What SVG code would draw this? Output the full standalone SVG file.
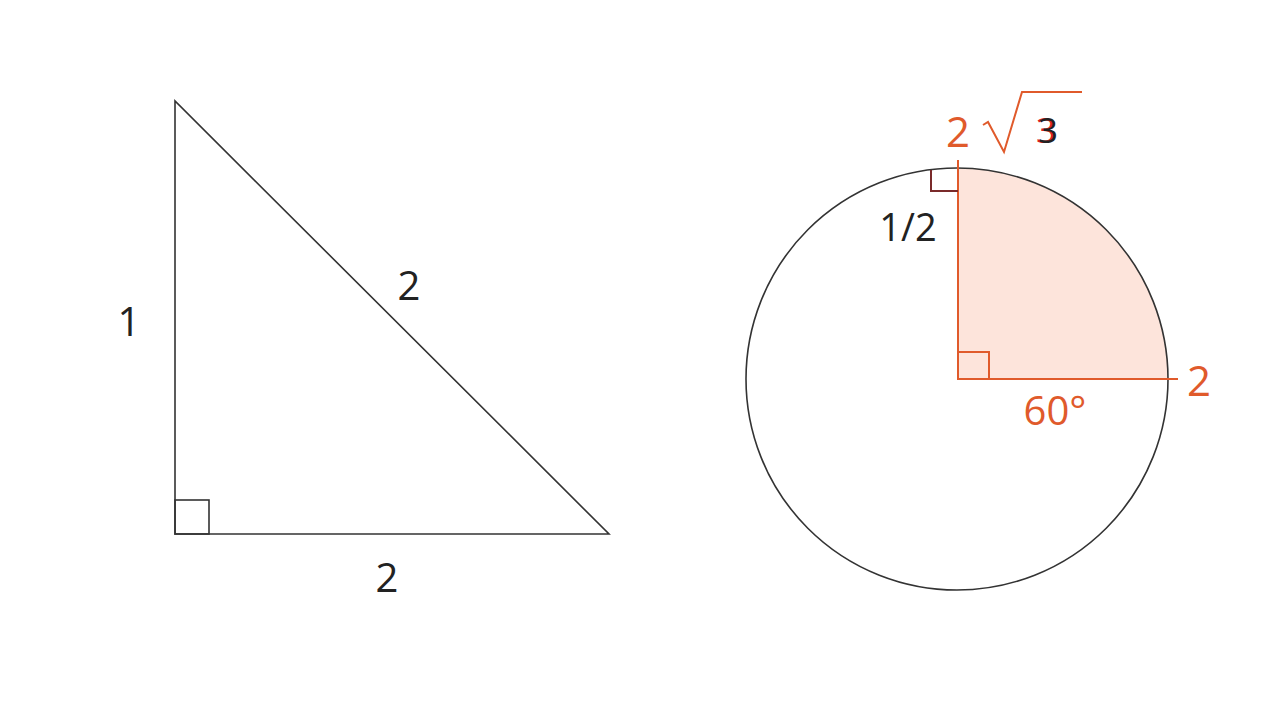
<svg xmlns="http://www.w3.org/2000/svg" width="1280" height="720" viewBox="0 0 1280 720">
<style>
.ln{fill:none;stroke:#333;stroke-width:1.6}
.or{fill:none;stroke:#e05a2b;stroke-width:2}
.t{font-family:"Open Sans","Noto Sans",sans-serif;text-anchor:middle}
.dk{fill:#222}
.ot{fill:#e05a2b}
</style>
<rect width="1280" height="720" fill="#fff"/>
<g id="triangle">
<polygon class="ln" points="175,101 175,534 609,534"/>
<rect class="ln" x="175" y="500" width="34" height="34"/>
<text class="t dk" x="129" y="336" font-size="40">1</text>
<text class="t dk" x="409" y="300" font-size="40">2</text>
<text class="t dk" x="387" y="592" font-size="40">2</text>
</g>
<g id="circle">
<path d="M958,379 L958,168 A211,211 0 0 1 1168,379 Z" fill="#fde4db" stroke="none"/>
<circle class="ln" cx="957" cy="379" r="211"/>
<line class="or" x1="958" y1="160" x2="958" y2="379"/>
<line class="or" x1="958" y1="379" x2="1178" y2="379"/>
<rect class="or" x="958" y="352" width="31" height="27"/>
<polyline points="931,170 931,191 958,191" fill="none" stroke="#7a2a2a" stroke-width="2"/>
<polyline class="or" points="983,125 988,122 1004,152 1022,92 1082,92" stroke-width="2.6"/>
<text class="t ot" x="958" y="147" font-size="42">2</text>
<text class="t" x="1046" y="143" font-size="35" fill="#e02020">3</text>
<text class="t dk" x="1048" y="143" font-size="35">3</text>
<text class="t dk" x="908" y="241" font-size="38">1/2</text>
<text class="t ot" x="1199" y="396" font-size="42">2</text>
<text class="t ot" x="1055" y="425" font-size="40">60°</text>
</g>
</svg>
